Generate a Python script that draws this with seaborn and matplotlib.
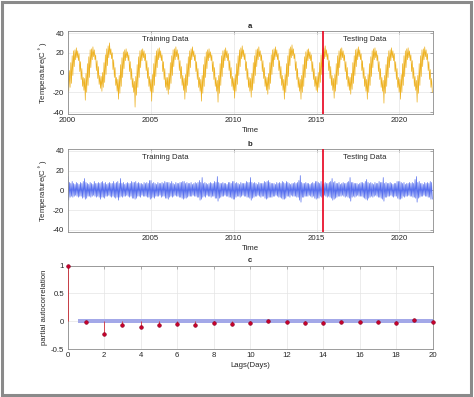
import matplotlib

matplotlib.use("Agg")
import matplotlib.pyplot as plt
import numpy as np
import seaborn as sns
from matplotlib.patches import Rectangle

sns.set_theme(style="white")
plt.rcParams["font.family"] = ["Liberation Sans", "DejaVu Sans"]
plt.rcParams["axes.unicode_minus"] = False

# monthly envelope of the daily temperature series (top / bottom of the band), 2000-2021
TEMP_UPPER = [
    [0, 2, 10, 17, 22, 23, 25, 22, 19, 11, 4, -5],
    [-6, -1, 9, 16, 23, 24, 26, 23, 18, 12, 6, -3],
    [-4, 0, 10, 18, 24, 27, 30, 24, 20, 13, 5, -5],
    [-7, -3, 8, 15, 21, 23, 24, 21, 18, 11, 4, -6],
    [-9, -4, 8, 16, 22, 23, 24, 22, 19, 12, 5, -4],
    [-7, -2, 9, 17, 22, 24, 25, 22, 18, 11, 4, -5],
    [-5, -1, 10, 17, 23, 24, 26, 23, 19, 12, 6, -3],
    [-6, -2, 9, 16, 22, 24, 26, 22, 18, 11, 4, -5],
    [-7, -3, 8, 16, 21, 23, 24, 21, 18, 11, 5, -5],
    [-8, -3, 9, 17, 22, 23, 25, 22, 19, 12, 5, -4],
    [-6, -2, 9, 17, 23, 25, 27, 23, 19, 11, 4, -5],
    [-6, -1, 10, 17, 23, 24, 26, 22, 18, 12, 5, -4],
    [-5, -1, 10, 18, 23, 24, 26, 23, 19, 12, 6, -3],
    [-7, -2, 9, 17, 24, 26, 28, 24, 19, 11, 4, -5],
    [-7, -3, 8, 16, 21, 23, 24, 21, 18, 11, 4, -4],
    [-4, 0, 10, 18, 23, 25, 27, 23, 19, 12, 6, -3],
    [-6, -2, 9, 17, 22, 24, 25, 22, 18, 11, 5, -4],
    [-5, -1, 10, 17, 23, 24, 26, 23, 19, 12, 5, -4],
    [-7, -2, 9, 16, 22, 24, 25, 22, 18, 11, 4, -5],
    [-8, -3, 8, 16, 22, 23, 25, 22, 19, 11, 4, -5],
    [-7, -2, 9, 17, 22, 24, 25, 22, 18, 12, 5, -4],
    [-8, -3, 9, 17, 23, 24, 26, 23, 19, 11, 3, -6],
]
TEMP_LOWER = [
    [-19, -15, -11, -3, 6, 13, 15, 12, 1, -7, -14, -18],
    [-28, -20, -13, -5, 5, 13, 16, 13, 2, -6, -12, -16],
    [-19, -15, -10, -2, 7, 15, 18, 14, 3, -5, -13, -19],
    [-27, -21, -14, -5, 4, 12, 15, 12, 1, -7, -15, -20],
    [-35, -23, -15, -5, 5, 12, 15, 12, 2, -6, -14, -19],
    [-29, -20, -13, -4, 5, 13, 15, 12, 1, -7, -15, -18],
    [-22, -17, -11, -3, 6, 13, 16, 13, 2, -6, -13, -18],
    [-27, -20, -13, -4, 5, 13, 16, 12, 1, -7, -15, -19],
    [-29, -21, -14, -5, 4, 12, 15, 12, 1, -7, -14, -19],
    [-30, -21, -13, -4, 5, 12, 15, 12, 2, -6, -14, -18],
    [-26, -19, -12, -3, 6, 14, 16, 13, 2, -7, -15, -19],
    [-25, -18, -11, -3, 6, 13, 16, 12, 1, -6, -14, -18],
    [-22, -17, -11, -2, 6, 13, 16, 13, 2, -6, -13, -18],
    [-27, -20, -13, -4, 7, 15, 17, 14, 2, -7, -15, -19],
    [-27, -20, -14, -5, 4, 12, 14, 12, 1, -7, -14, -18],
    [-20, -15, -10, -2, 6, 14, 16, 13, 2, -6, -13, -18],
    [-26, -19, -12, -3, 5, 13, 15, 12, 1, -7, -14, -18],
    [-22, -17, -11, -3, 6, 13, 16, 13, 2, -6, -14, -19],
    [-27, -20, -13, -4, 5, 13, 15, 12, 1, -7, -15, -19],
    [-31, -21, -14, -5, 5, 12, 15, 12, 1, -7, -15, -20],
    [-27, -20, -13, -4, 5, 13, 15, 12, 1, -6, -14, -18],
    [-30, -21, -13, -4, 6, 13, 16, 13, 2, -7, -15, -20],
]

# monthly envelope of the residual series, 2000-2021
RESID_UPPER = [
    [14, 8, 7, 9, 7, 6, 8, 7, 6, 8, 7, 9],
    [12, 8, 7, 6, 8, 7, 6, 9, 7, 7, 8, 7],
    [8, 9, 7, 8, 6, 7, 8, 7, 7, 9, 7, 8],
    [9, 7, 12, 7, 8, 6, 7, 8, 7, 7, 9, 8],
    [8, 9, 7, 8, 7, 7, 6, 8, 7, 8, 7, 10],
    [10, 7, 8, 7, 6, 8, 7, 7, 8, 7, 9, 8],
    [8, 8, 7, 9, 7, 6, 8, 7, 7, 8, 8, 9],
    [9, 7, 8, 7, 7, 8, 6, 7, 8, 7, 8, 10],
    [8, 13, 7, 8, 7, 6, 7, 8, 7, 7, 9, 8],
    [14, 8, 7, 7, 8, 7, 7, 6, 8, 8, 7, 9],
    [9, 7, 8, 7, 6, 8, 7, 7, 7, 9, 8, 8],
    [13, 8, 7, 8, 7, 6, 8, 7, 7, 7, 9, 8],
    [9, 10, 8, 7, 7, 7, 6, 8, 7, 8, 7, 9],
    [8, 7, 9, 8, 7, 6, 7, 7, 8, 7, 8, 10],
    [15, 8, 7, 7, 8, 7, 7, 6, 7, 8, 7, 9],
    [9, 8, 7, 9, 6, 7, 8, 7, 7, 8, 9, 12],
    [8, 9, 7, 7, 8, 6, 7, 8, 7, 7, 8, 9],
    [13, 8, 8, 7, 7, 7, 6, 7, 8, 8, 7, 9],
    [11, 8, 7, 8, 7, 6, 8, 7, 7, 9, 8, 8],
    [13, 7, 8, 7, 7, 8, 7, 6, 7, 7, 9, 9],
    [9, 8, 7, 8, 6, 7, 7, 8, 7, 8, 7, 11],
    [14, 8, 9, 7, 7, 6, 8, 7, 8, 7, 9, 8],
]
RESID_LOWER = [
    [-10, -7, -6, -7, -6, -5, -6, -7, -6, -6, -8, -7],
    [-9, -8, -6, -6, -7, -6, -5, -6, -7, -6, -7, -9],
    [-7, -7, -8, -6, -6, -5, -6, -7, -6, -7, -8, -7],
    [-10, -7, -6, -7, -6, -6, -5, -6, -7, -6, -8, -8],
    [-9, -8, -6, -6, -7, -5, -6, -6, -6, -7, -7, -9],
    [-8, -7, -8, -6, -6, -6, -5, -7, -6, -6, -8, -8],
    [-9, -7, -6, -7, -6, -5, -6, -6, -7, -7, -8, -9],
    [-8, -8, -7, -6, -6, -6, -5, -6, -6, -7, -7, -10],
    [-9, -7, -6, -7, -5, -6, -6, -7, -6, -6, -8, -8],
    [-11, -8, -7, -6, -6, -5, -6, -6, -7, -7, -8, -9],
    [-9, -7, -6, -6, -7, -6, -5, -6, -6, -7, -7, -8],
    [-10, -8, -7, -6, -6, -5, -6, -7, -6, -6, -8, -9],
    [-8, -7, -7, -7, -6, -6, -5, -6, -7, -7, -8, -9],
    [-9, -8, -6, -6, -7, -5, -6, -6, -6, -7, -7, -10],
    [-12, -7, -7, -6, -6, -6, -5, -6, -7, -6, -8, -9],
    [-8, -8, -6, -7, -6, -5, -6, -7, -6, -7, -8, -10],
    [-9, -8, -7, -6, -6, -6, -5, -6, -7, -6, -7, -8],
    [-11, -7, -6, -7, -6, -5, -6, -6, -6, -7, -8, -9],
    [-10, -8, -7, -6, -7, -6, -5, -6, -7, -7, -8, -9],
    [-11, -7, -7, -6, -6, -5, -6, -7, -6, -6, -8, -9],
    [-9, -8, -6, -7, -6, -6, -5, -6, -6, -7, -7, -8],
    [-12, -8, -7, -6, -6, -5, -6, -6, -7, -7, -9, -9],
]

START_YEAR = 2000
SPLIT_YEAR = 2015.36
TIME_TICKS_A = [2000, 2005, 2010, 2015, 2020]
TIME_TICKS_B = [2005, 2010, 2015, 2020]
TEMP_TICKS = [-40, -20, 0, 20, 40]

PACF_LAGS = list(range(21))
PACF_VALUES = [1.0, -0.005, -0.23, -0.065, -0.105, -0.075, -0.05, -0.075, -0.036, -0.055,
               -0.036, 0.0, -0.018, -0.024, -0.03, -0.018, -0.012, -0.012, -0.03, 0.018, -0.012]
PACF_BOUND = 0.032
LAG_TICKS = list(range(0, 21, 2))
PACF_TICKS = [-0.5, 0, 0.5, 1]

ORANGE = "#EDB120"
BLUE = "#5870EE"
RED = "#E8001C"
EDGE = "#8c8c8c"
TEXT = "#262626"
FS = 5.6


def band_series(upper: list[list[float]], lower: list[list[float]]) -> tuple[np.ndarray, np.ndarray]:
    """Interleave top/bottom of each month so the line sweeps the band like dense daily data."""
    values = np.column_stack([np.ravel(upper), np.ravel(lower)]).ravel()
    t = START_YEAR + (np.arange(len(values)) + 0.5) / 24
    return t, values


def style_axes(ax, title: str) -> None:
    for spine in ax.spines.values():
        spine.set_visible(True)
        spine.set_color(EDGE)
        spine.set_linewidth(0.6)
    ax.tick_params(direction="in", length=2, width=0.5, top=True, right=True,
                   color=EDGE, labelcolor=TEXT, labelsize=FS, pad=2.5)
    ax.grid(True, color="#e4e4e4", linewidth=0.5)
    ax.set_axisbelow(True)
    ax.set_title(title, fontsize=FS, fontweight="bold", color=TEXT, pad=2.5)


def draw_series(ax, upper, lower, color: str, title: str, xticks: list[int]) -> None:
    t, values = band_series(upper, lower)
    sns.lineplot(x=t, y=values, ax=ax, color=color, linewidth=0.5, sort=False, zorder=2)
    ax.axvline(SPLIT_YEAR, color=RED, linewidth=1.2, zorder=3)
    ax.text(2005.9, 33, "Training Data", ha="center", va="center", fontsize=FS, color=TEXT)
    ax.text(2017.9, 33, "Testing Data", ha="center", va="center", fontsize=FS, color=TEXT)
    ax.set_xlim(2000, 2022)
    ax.set_ylim(-42, 42)
    ax.set_xticks(xticks)
    ax.set_xticklabels([str(x) for x in xticks])
    ax.set_yticks(TEMP_TICKS)
    ax.set_yticklabels([str(y) for y in TEMP_TICKS])
    ax.set_xlabel("Time", fontsize=FS, color=TEXT, labelpad=2)
    ax.set_ylabel("Temperature(C$^\\circ$)", fontsize=FS, color=TEXT, labelpad=2)
    style_axes(ax, title)


def draw_pacf(ax) -> None:
    ax.fill_between([0.55, 20], -PACF_BOUND, PACF_BOUND, color="#a3a8e8", linewidth=0, zorder=2)
    ax.vlines(PACF_LAGS, 0, PACF_VALUES, color="#d0303a", linewidth=0.6, zorder=3)
    sns.scatterplot(x=PACF_LAGS, y=PACF_VALUES, ax=ax, color="#c8002c", edgecolor="#8a0020",
                    linewidth=0.4, s=7, zorder=4, clip_on=False)
    ax.set_xlim(0, 20)
    ax.set_ylim(-0.5, 1)
    ax.set_xticks(LAG_TICKS)
    ax.set_xticklabels([str(x) for x in LAG_TICKS])
    ax.set_yticks(PACF_TICKS)
    ax.set_yticklabels(["-0.5", "0", "0.5", "1"])
    ax.set_xlabel("Lags(Days)", fontsize=FS, color=TEXT, labelpad=2)
    ax.set_ylabel("partial autocorrelation", fontsize=FS, color=TEXT, labelpad=2)
    style_axes(ax, "c")


fig = plt.figure(figsize=(4.74, 3.97), dpi=100)
ax_a = fig.add_axes([0.1428, 0.7128, 0.770, 0.209])
ax_b = fig.add_axes([0.1428, 0.4164, 0.770, 0.2083])
ax_c = fig.add_axes([0.1428, 0.1209, 0.770, 0.2098])

draw_series(ax_a, TEMP_UPPER, TEMP_LOWER, ORANGE, "a", TIME_TICKS_A)
draw_series(ax_b, RESID_UPPER, RESID_LOWER, BLUE, "b", TIME_TICKS_B)
draw_pacf(ax_c)

fig.patches.append(Rectangle((0.004, 0.004), 0.99, 0.99, transform=fig.transFigure,
                             fill=False, edgecolor="#8a8a8a", linewidth=2.2))

fig.savefig("out.png", dpi=100)
